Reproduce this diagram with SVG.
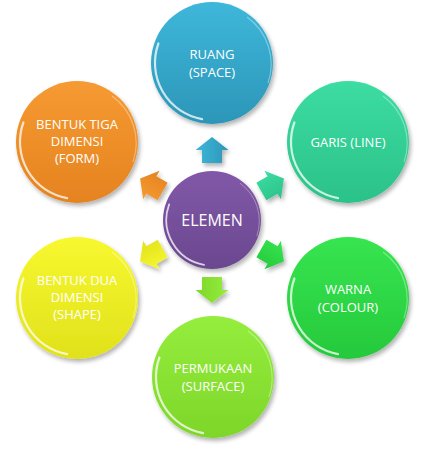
<svg xmlns="http://www.w3.org/2000/svg" xmlns:xlink="http://www.w3.org/1999/xlink" width="426" height="455" viewBox="0 0 426 455">
<style>
.lbl{font-family:"Open Sans","Noto Sans","Liberation Sans",sans-serif;font-size:13px;fill:#ffffff;text-anchor:middle;}
.ctr{font-size:16px;}
.hl{fill:none;stroke:#ffffff;stroke-width:2.2;stroke-linecap:round;opacity:0.75;}
.rim{fill:none;stroke:#ffffff;stroke-width:1.2;opacity:0.35;}
</style>
<defs>
<filter id="sh" x="-20%" y="-20%" width="140%" height="140%">
<feGaussianBlur in="SourceAlpha" stdDeviation="2.2"/>
<feOffset dx="1.5" dy="3" result="b"/>
<feComponentTransfer><feFuncA type="linear" slope="0.3"/></feComponentTransfer>
<feMerge><feMergeNode/><feMergeNode in="SourceGraphic"/></feMerge>
</filter>
<filter id="soft"><feGaussianBlur stdDeviation="0.6"/></filter>
<linearGradient id="gBlue" x1="0" y1="0" x2="0" y2="1"><stop offset="0" stop-color="#3eb7da"/><stop offset="1" stop-color="#2c96b8"/></linearGradient>
<linearGradient id="gTeal" x1="0" y1="0" x2="0" y2="1"><stop offset="0" stop-color="#3cdca3"/><stop offset="1" stop-color="#2bc288"/></linearGradient>
<linearGradient id="gGreen" x1="0" y1="0" x2="0" y2="1"><stop offset="0" stop-color="#36e550"/><stop offset="1" stop-color="#26c93b"/></linearGradient>
<linearGradient id="gLime" x1="0" y1="0" x2="0" y2="1"><stop offset="0" stop-color="#95ee3d"/><stop offset="1" stop-color="#7dd629"/></linearGradient>
<linearGradient id="gYellow" x1="0" y1="0" x2="0" y2="1"><stop offset="0" stop-color="#f8f830"/><stop offset="1" stop-color="#e1e11b"/></linearGradient>
<linearGradient id="gOrange" x1="0" y1="0" x2="0" y2="1"><stop offset="0" stop-color="#f69a32"/><stop offset="1" stop-color="#e5831f"/></linearGradient>
<linearGradient id="gPurple" x1="0" y1="0" x2="0" y2="1"><stop offset="0" stop-color="#8258a8"/><stop offset="1" stop-color="#6a488f"/></linearGradient>
<path id="hl" class="hl" d="M -9.9,56.1 A 57 57 0 0 1 -53.6,-19.5" filter="url(#soft)"/>
<path id="rim" class="rim" d="M 35,-46 A 58 58 0 0 1 56,20"/>
<path id="arr" d="M -13,-10 L 0,-10 L 0,-16.5 L 13,0 L 0,16.5 L 0,10 L -13,10 Z"/>
</defs>

<g id="connectors" filter="url(#sh)">
<use xlink:href="#arr" fill="url(#gBlue)" transform="translate(212,220) rotate(-90) translate(70,0)"/>
<use xlink:href="#arr" fill="url(#gTeal)" transform="translate(212,220) rotate(-30) translate(70,0)"/>
<use xlink:href="#arr" fill="url(#gGreen)" transform="translate(212,220) rotate(30) translate(70,0)"/>
<use xlink:href="#arr" fill="url(#gLime)" transform="translate(212,220) rotate(90) translate(70,0)"/>
<use xlink:href="#arr" fill="url(#gYellow)" transform="translate(212,220) rotate(150) translate(70,0)"/>
<use xlink:href="#arr" fill="url(#gOrange)" transform="translate(212,220) rotate(210) translate(70,0)"/>
</g>

<g id="node-ruang" transform="translate(212,63)">
<circle r="61" fill="url(#gBlue)" filter="url(#sh)"/>
<use xlink:href="#hl"/><use xlink:href="#rim"/>
<text class="lbl" y="-4">RUANG</text>
<text class="lbl" y="14">(SPACE)</text>
</g>

<g id="node-garis" transform="translate(348,142)">
<circle r="61" fill="url(#gTeal)" filter="url(#sh)"/>
<use xlink:href="#hl"/><use xlink:href="#rim"/>
<text class="lbl" y="5">GARIS (LINE)</text>
</g>

<g id="node-warna" transform="translate(348,298)">
<circle r="61" fill="url(#gGreen)" filter="url(#sh)"/>
<use xlink:href="#hl"/><use xlink:href="#rim"/>
<text class="lbl" y="-4">WARNA</text>
<text class="lbl" y="14">(COLOUR)</text>
</g>

<g id="node-permukaan" transform="translate(213,377)">
<circle r="61" fill="url(#gLime)" filter="url(#sh)"/>
<use xlink:href="#hl"/><use xlink:href="#rim"/>
<text class="lbl" y="-4">PERMUKAAN</text>
<text class="lbl" y="14">(SURFACE)</text>
</g>

<g id="node-shape" transform="translate(77,298)">
<circle r="61" fill="url(#gYellow)" filter="url(#sh)"/>
<use xlink:href="#hl"/><use xlink:href="#rim"/>
<text class="lbl" y="-13">BENTUK DUA</text>
<text class="lbl" y="4">DIMENSI</text>
<text class="lbl" y="21">(SHAPE)</text>
</g>

<g id="node-form" transform="translate(77,142)">
<circle r="61" fill="url(#gOrange)" filter="url(#sh)"/>
<use xlink:href="#hl"/><use xlink:href="#rim"/>
<text class="lbl" y="-13">BENTUK TIGA</text>
<text class="lbl" y="4">DIMENSI</text>
<text class="lbl" y="21">(FORM)</text>
</g>

<g id="node-elemen" transform="translate(212,220)">
<circle r="49" fill="url(#gPurple)" filter="url(#sh)"/>
<g transform="scale(0.8)"><use xlink:href="#hl"/><use xlink:href="#rim"/></g>
<text class="lbl ctr" y="6">ELEMEN</text>
</g>
</svg>
